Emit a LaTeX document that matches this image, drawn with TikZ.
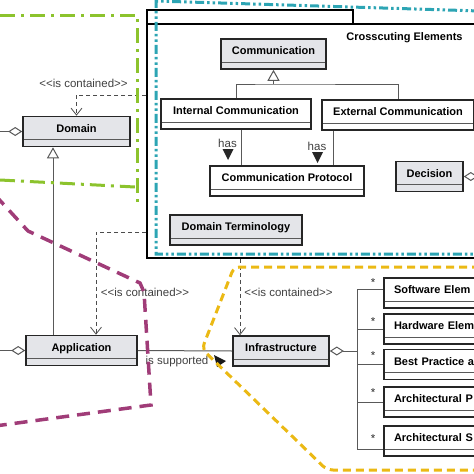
\documentclass[tikz,border=0pt]{standalone}
\usepackage{fontspec}
\setmainfont{Liberation Sans}
\usetikzlibrary{arrows.meta}
\definecolor{clsgray}{RGB}{228,229,233}
\definecolor{grnline}{RGB}{140,195,45}
\definecolor{cyanline}{RGB}{45,165,180}
\definecolor{pinkline}{RGB}{160,60,120}
\definecolor{yelline}{RGB}{235,185,20}
\begin{document}
\begin{tikzpicture}[x=1pt,y=-1pt,font=\fontsize{11}{13}\selectfont,
	cls/.style={draw=black!85,line width=1.6pt,fill=clsgray,minimum height=30pt,inner sep=0pt,
		text height=8pt,text depth=7pt,font=\fontsize{11}{13}\selectfont\bfseries,
		path picture={\draw[line width=1pt,black!65] ([yshift=7pt]path picture bounding box.south west) -- ([yshift=7pt]path picture bounding box.south east);}},
	wcls/.style={cls,fill=white},
	rbox/.style={wcls,minimum width=146pt,text width=126pt,inner xsep=10pt,align=left},
	lbl/.style={text=black!75,inner sep=1pt,font=\fontsize{11.5}{13}\selectfont},
	assoc/.style={draw=black!65,line width=1pt},
	gen/.style={assoc,-{Triangle[open,fill=white,length=11pt,width=12pt]}},
	contain/.style={draw=black!70,line width=0.8pt,dash pattern=on 4pt off 3pt,-{Straight Barb[length=7pt,width=11pt]}},
	aggr/.style={assoc,{Diamond[open,fill=white,length=14pt,width=9pt]}-},
	grn/.style={grnline,line width=3pt,dash pattern=on 15pt off 6pt on 3pt off 6pt},
	cyn/.style={cyanline,line width=3pt,dash pattern=on 9pt off 3pt on 2.5pt off 3pt on 2.5pt off 3pt},
	mag/.style={pinkline,line width=3.5pt,dash pattern=on 13pt off 8pt},
	yel/.style={yelline,line width=3pt,dash pattern=on 8pt off 5pt}]
\useasboundingbox (0,0) rectangle (474,474);
\clip (0,0) rectangle (474,474);
%CROSSCUTING PACKAGE
\node[draw,line width=1.6pt,minimum width=206pt,minimum height=14pt,inner sep=0pt] (tab) at (250,17) {};
\node[draw,line width=1.6pt,fill=white,minimum width=353pt,minimum height=234pt,inner sep=0pt] (pkg) at (323.5,141) {};
\node[font=\fontsize{11}{13}\selectfont\bfseries] (pkgname) at (404.5,38) {Crosscuting Elements};
\node[cls,minimum width=105pt] (comm) at (273.5,54) {Communication};
\node[wcls,minimum width=150pt] (intc) at (236,114) {Internal Communication};
\node[wcls,minimum width=152pt] (extc) at (398,115) {External Communication};
\node[wcls,minimum width=154pt] (cp) at (287,181) {Communication Protocol};
\node[cls,minimum width=67pt] (dec) at (429.5,176.5) {Decision};
\node[cls,minimum width=132pt] (dt) at (236,230) {Domain Terminology};
\draw[gen] (comm.south |- 0,84) -- (comm.south);
\draw[assoc] (intc.north) |- (comm.south |- 0,84) -| (extc.north);
\draw[assoc] ([xshift=5pt]intc.south) -- ([xshift=5pt]intc.south |- cp.north);
\draw[assoc] ([xshift=-65pt]extc.south) -- ([xshift=-65pt]extc.south |- cp.north);
\node[lbl] (has1) at (227.5,143) {has};
\node[lbl] (has2) at (317,146) {has};
\fill[black!85] (228,160) -- (222.5,149) -- (233.5,149) -- cycle;
\fill[black!85] (317.5,163) -- (312,152) -- (323,152) -- cycle;
\coordinate (decout) at (490,176.5);
\draw[aggr] (dec.east) -- (decout);
%LEFT SIDE
\node[cls,minimum width=107pt] (domain) at (76.5,131.5) {Domain};
\node[cls,minimum width=111pt] (app) at (81.5,350.5) {Application};
\node[cls,minimum width=96pt] (infra) at (281,351) {Infrastructure};
\coordinate (domin) at (-5,131.5);
\coordinate (appin) at (-5,350.5);
\draw[assoc,-{Diamond[open,fill=white,length=14pt,width=9pt]}] (domin) -- (domain.west);
\draw[assoc,-{Diamond[open,fill=white,length=14pt,width=9pt]}] (appin) -- (app.west);
\draw[gen] ([xshift=-28.5pt]app.north) -- ([xshift=-28.5pt]app.north |- domain.south);
\draw[contain] (pkg.north west |- 0,95) -| (domain.north);
\draw[contain] (pkg.north west |- 0,232) -| ([xshift=14.5pt]app.north);
\draw[contain] ([xshift=-41pt]infra.north |- pkg.south) -- ([xshift=-41pt]infra.north);
\node[lbl] (in1) at (83.5,83) {<{}<is contained>{}>};
\node[lbl] (in2) at (145,292) {<{}<is contained>{}>};
\node[lbl] (in3) at (288.5,292) {<{}<is contained>{}>};
\draw[assoc] (app.east) -- (infra.west);
\node[lbl] (sup) at (177,362) {is supported};
\fill[black!90] (226,361) -- (214,355) -- (217,367) -- cycle;
%INFRASTRUCTURE PARTS
\node[rbox] (sw) at (457,293) {Software Elem};
\node[rbox] (hw) at (457,329) {Hardware Elem};
\node[rbox] (bp) at (457,364.5) {Best Practice a};
\node[rbox] (ap) at (457,402) {Architectural P};
\node[rbox] (as) at (457,441) {Architectural S};
\coordinate (bus) at (357,351);
\draw[aggr] (infra.east) -- (bus);
\draw[assoc] (bus) |- ([yshift=4pt]sw.west);
\draw[assoc] (bus) |- (hw.west);
\draw[assoc] (bus) |- (bp.west);
\draw[assoc] (bus) |- (ap.west);
\draw[assoc] (bus) |- ([yshift=-8pt]as.west);
\foreach \y [count=\i] in {283,322,356,393,439}
	\node[lbl,text=black!85] (star\i) at (373,\y) {*};
%VIEWPOINT BORDERS
\draw[grn] (0,15) -- (137,15) -- (137,202);
\draw[grn] (0,180) -- (135,187);
\draw[cyn] (480,11) -- (156,1) -- (156,254) -- (480,254);
\draw[mag] (-5,195) -- (28,231) -- (140,283) -- (144,292) -- (151,405) -- (-5,426);
\draw[yel,rounded corners=6pt] (480,267) -- (234,267) -- (202,349) -- (327,470) -- (480,470);
\end{tikzpicture}
\end{document}
